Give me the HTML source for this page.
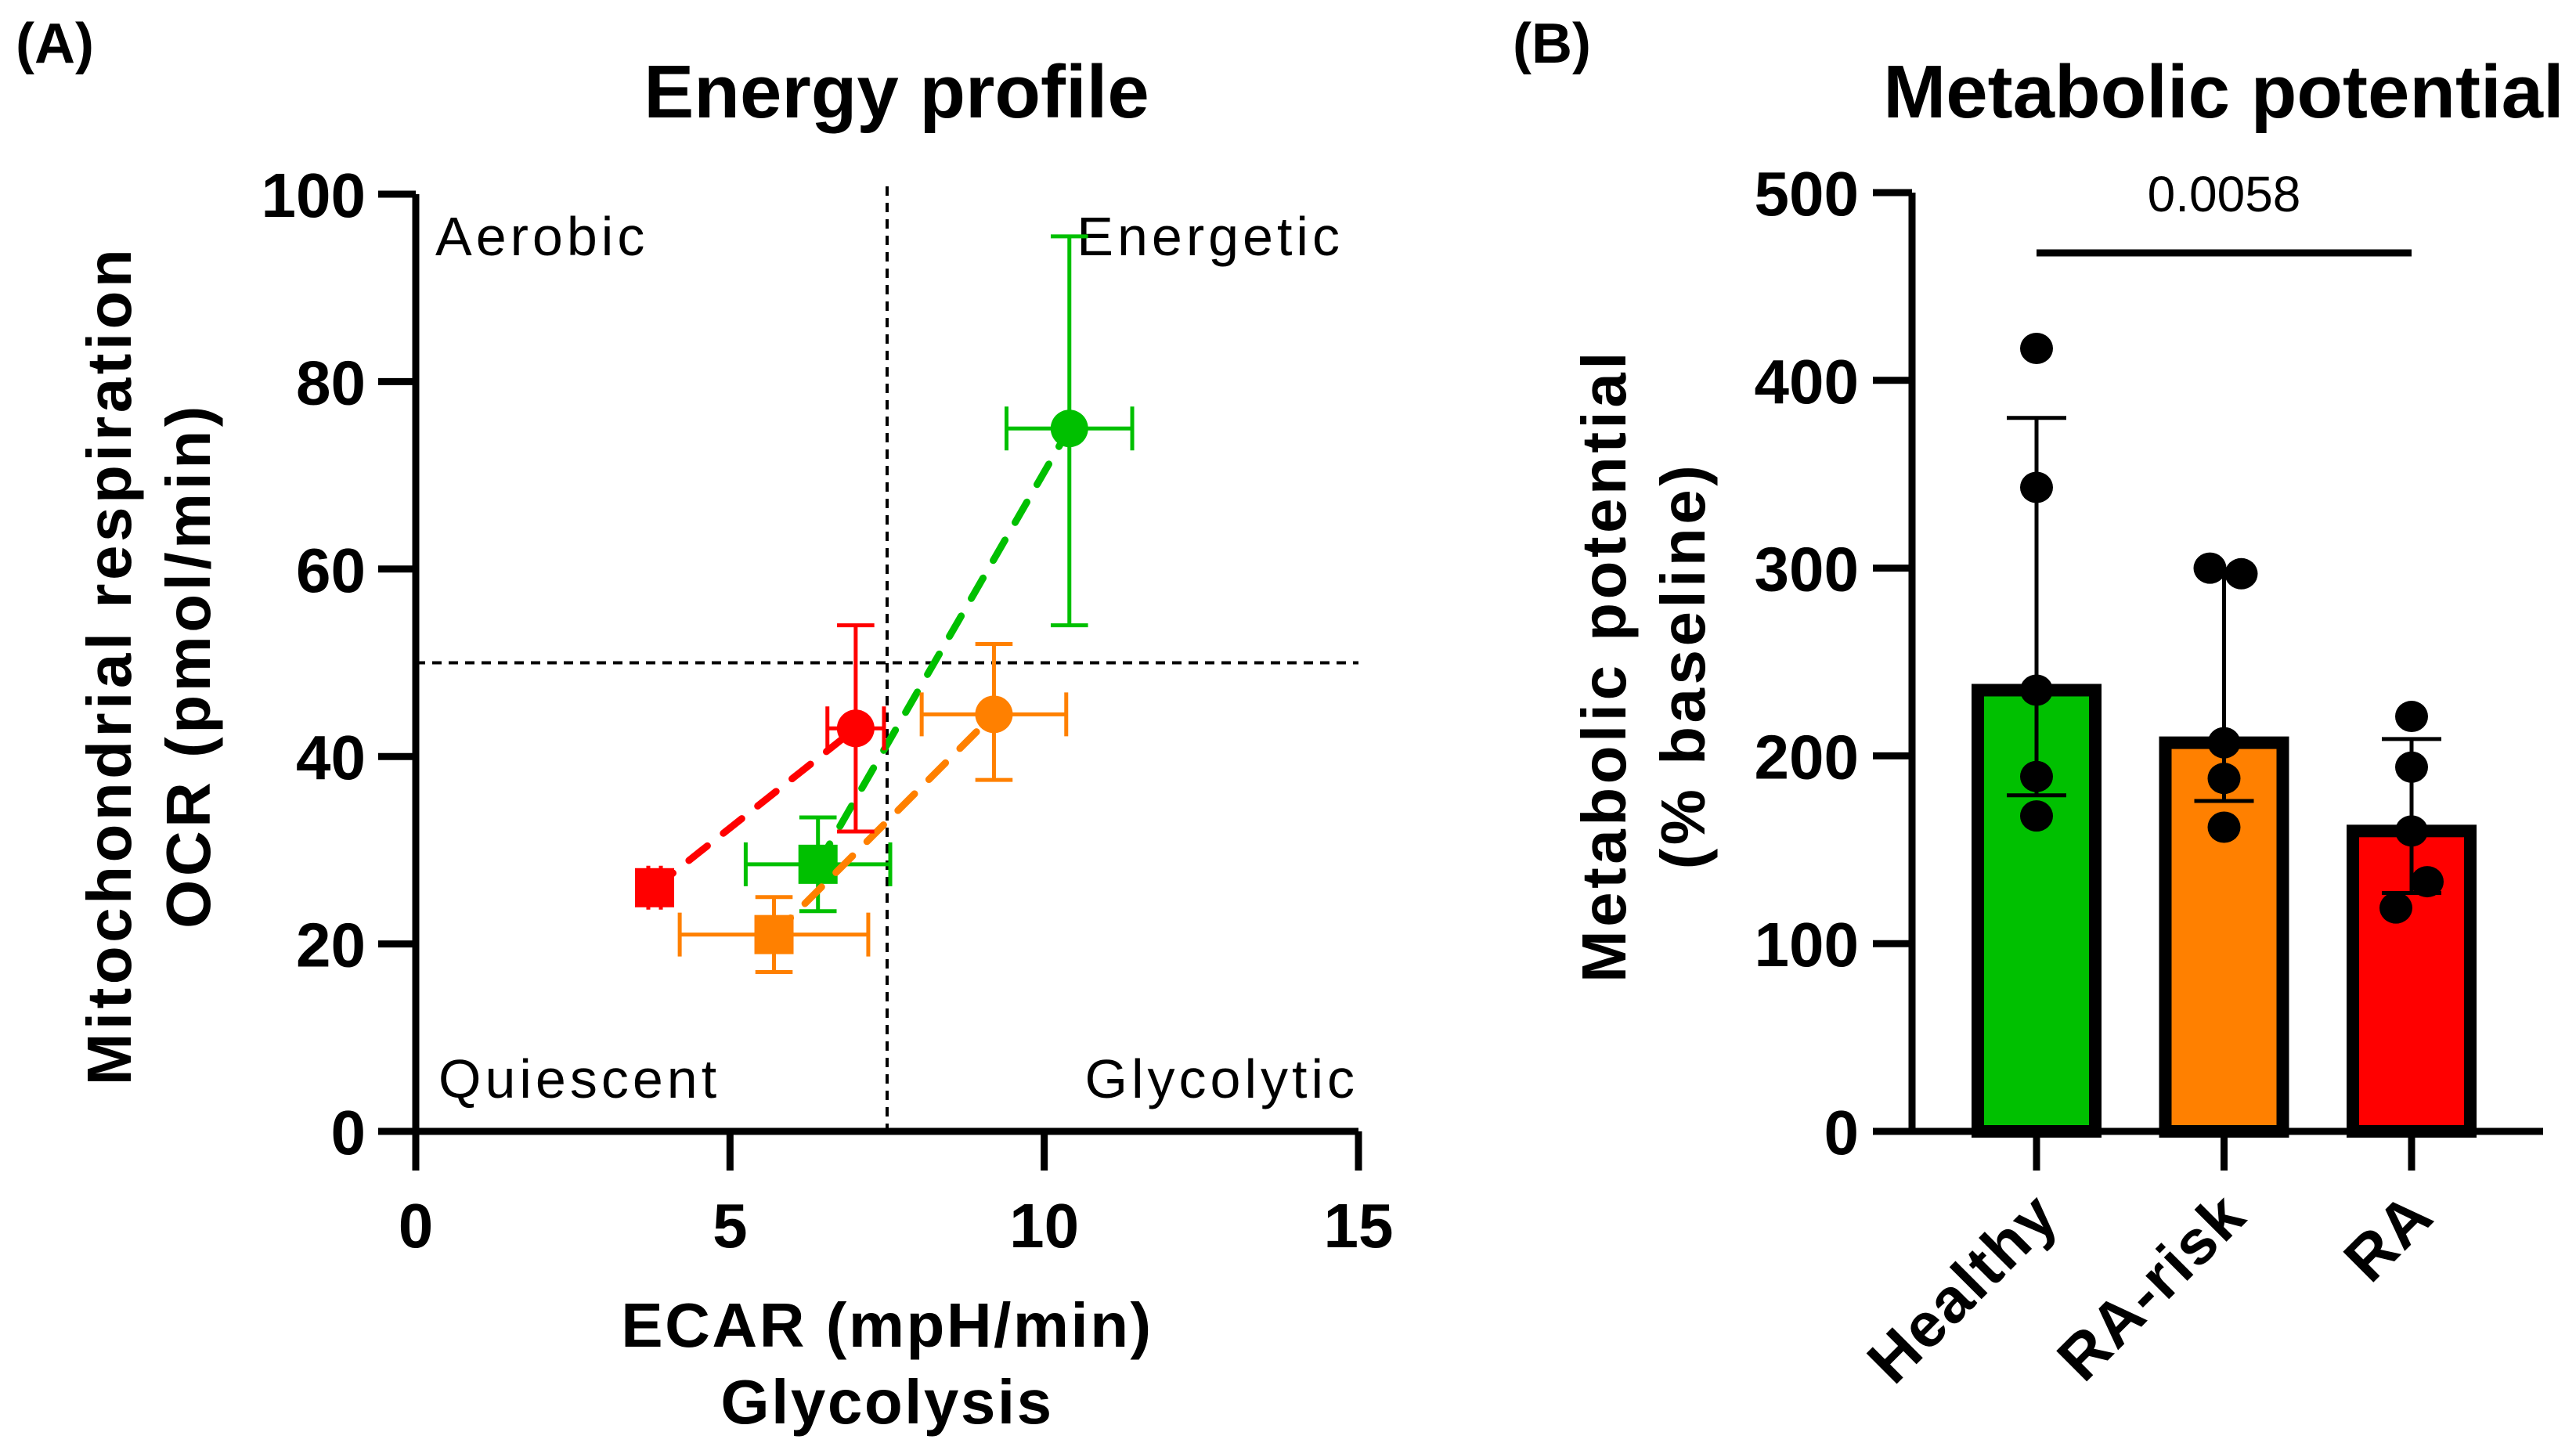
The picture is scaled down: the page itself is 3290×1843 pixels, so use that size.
<!DOCTYPE html>
<html><head><meta charset="utf-8"><style>
html,body{margin:0;padding:0;background:#fff;}
svg{display:block;font-family:"Liberation Sans",Arial,sans-serif;}
</style></head><body>
<svg id="chart" width="3290" height="1843" viewBox="0 0 3290 1843" xmlns="http://www.w3.org/2000/svg">
<g id="panelA"></g>
<g id="panelB"></g>
</svg>
<script>
// ---- Panel A data ----
const groupNames = ["Healthy","RA-risk","RA"];
const groupColors = ["#00C000","#FF8000","#FF0000"];
const stressedEcar = [10.4, 9.2, 7.0];
const stressedOcr = [75, 44.5, 43];
const stressedEcarErr = [1.0, 1.15, 0.45];
const stressedOcrErrLo = [21, 7, 11];
const stressedOcrErrHi = [20.5, 7.5, 11];
const baselineEcar = [6.4, 5.7, 3.8];
const baselineOcr = [28.5, 21, 26];
const baselineEcarErr = [1.15, 1.5, 0.1];
const baselineOcrErr = [5, 4, 1.5];
const xTicksA = [0,5,10,15];
const yTicksA = [0,20,40,60,80,100];
// ---- Panel B data ----
const barCategories = ["Healthy","RA-risk","RA"];
const barMeans = [235, 207, 160];
const barErrLow = [179, 176, 127];
const barErrHigh = [380, 299, 209];
const healthyPoints = [417, 343, 235, 189, 168];
const raRiskPoints = [300, 297, 207, 188, 162];
const raPoints = [221, 194, 160, 133, 119];
const pointOffsets = [[0,0,0,0,0],[-18,22,0,0,0],[0,0,0,20,-20]];
const yTicksB = [0,100,200,300,400,500];
const pValueLabel = "0.0058";

const NS="http://www.w3.org/2000/svg";
function mk(parent,tag,attrs,text){const e=document.createElementNS(NS,tag);for(const k in attrs)e.setAttribute(k,attrs[k]);if(text!==undefined)e.textContent=text;parent.appendChild(e);return e;}

// ---- Panel A ----
const A=document.getElementById('panelA');
const ax0=531,ax1=1735,ay0=1445,ay1=248;
const xA=v=>ax0+(v/15)*(ax1-ax0);
const yA=v=>ay0-(v/100)*(ay0-ay1);
let t;
t=mk(A,'text',{x:20,y:80,'font-size':72,'font-weight':'bold'},'(A)');


t=mk(A,'text',{x:1145,y:150,'font-size':96,'font-weight':'bold','text-anchor':'middle'},'Energy profile');


t=mk(A,'line',{x1:xA(7.5),x2:xA(7.5),y1:ay1-10,y2:ay0,stroke:'#000','stroke-width':4,'stroke-dasharray':'12 9'});


t=mk(A,'line',{x1:ax0,x2:ax1,y1:yA(50),y2:yA(50),stroke:'#000','stroke-width':4,'stroke-dasharray':'12 9'});


[['Aerobic',556,326,'start'],['Energetic',1716,326,'end'],['Quiescent',560,1402,'start'],['Glycolytic',1735,1402,'end']].forEach(q=>{
  const e=mk(A,'text',{x:q[1],y:q[2],'font-size':70,'letter-spacing':5,'text-anchor':q[3]},q[0]);
  
  
});
for(let i=0;i<3;i++){
  const c=groupColors[i];
  const g=mk(A,'g',{});
  
  
  const ln=mk(g,'line',{x1:xA(baselineEcar[i]),y1:yA(baselineOcr[i]),x2:xA(stressedEcar[i]),y2:yA(stressedOcr[i]),stroke:c,'stroke-width':9,'stroke-dasharray':'30 26','stroke-linecap':'round'});
  
  
  const cap=14;
  const sx=xA(stressedEcar[i]),sy=yA(stressedOcr[i]);
  const yl=yA(stressedOcr[i]-stressedOcrErrLo[i]),yh=yA(stressedOcr[i]+stressedOcrErrHi[i]);
  const xl=xA(stressedEcar[i]-stressedEcarErr[i]),xh=xA(stressedEcar[i]+stressedEcarErr[i]);
  const eb=mk(g,'path',{d:`M${sx},${yl}V${yh}M${sx-cap*1.7},${yh}H${sx+cap*1.7}M${sx-cap*1.7},${yl}H${sx+cap*1.7}M${xl},${sy}H${xh}M${xl},${sy-cap*2}V${sy+cap*2}M${xh},${sy-cap*2}V${sy+cap*2}`,stroke:c,'stroke-width':5,fill:'none'});
  
  
  const ci=mk(g,'circle',{cx:sx,cy:sy,r:24,fill:c});
  
  
  const bx=xA(baselineEcar[i]),by=yA(baselineOcr[i]);
  const byl=yA(baselineOcr[i]-baselineOcrErr[i]),byh=yA(baselineOcr[i]+baselineOcrErr[i]);
  const bxl=xA(baselineEcar[i]-baselineEcarErr[i]),bxh=xA(baselineEcar[i]+baselineEcarErr[i]);
  const eb2=mk(g,'path',{d:`M${bx},${byl}V${byh}M${bx-cap*1.7},${byh}H${bx+cap*1.7}M${bx-cap*1.7},${byl}H${bx+cap*1.7}M${bxl},${by}H${bxh}M${bxl},${by-cap*2}V${by+cap*2}M${bxh},${by-cap*2}V${by+cap*2}`,stroke:c,'stroke-width':5,fill:'none'});
  
  
  const sq=mk(g,'rect',{x:bx-25,y:by-25,width:50,height:50,fill:c});
  
  
}
t=mk(A,'path',{d:`M${ax0},${ay1}V${ay0}H${ax1}`,stroke:'#000','stroke-width':9,fill:'none'});


yTicksA.forEach(v=>{
  const tk=mk(A,'line',{x1:ax0-48,x2:ax0,y1:yA(v),y2:yA(v),stroke:'#000','stroke-width':9});
  
  
  const lb=mk(A,'text',{x:ax0-64,y:yA(v)+29,'font-size':80,'font-weight':'bold','text-anchor':'end'},String(v));
  
  
});
xTicksA.forEach(v=>{
  const tk=mk(A,'line',{x1:xA(v),x2:xA(v),y1:ay0,y2:ay0+50,stroke:'#000','stroke-width':9});
  
  
  const lb=mk(A,'text',{x:xA(v),y:1593,'font-size':80,'font-weight':'bold','text-anchor':'middle'},String(v));
  
  
});
t=mk(A,'text',{x:1133,y:1720,'font-size':80,'font-weight':'bold','letter-spacing':2.5,'text-anchor':'middle'},'ECAR (mpH/min)');


t=mk(A,'text',{x:1133,y:1818,'font-size':80,'font-weight':'bold','letter-spacing':2.5,'text-anchor':'middle'},'Glycolysis');


t=mk(A,'text',{x:0,y:0,'font-size':80,'font-weight':'bold','letter-spacing':4.5,'text-anchor':'middle',transform:'translate(167,850) rotate(-90)'},'Mitochondrial respiration');


t=mk(A,'text',{x:0,y:0,'font-size':80,'font-weight':'bold','letter-spacing':4.5,'text-anchor':'middle',transform:'translate(268,850) rotate(-90)'},'OCR (pmol/min)');



// ---- Panel B ----
const B=document.getElementById('panelB');
const bx0=2442,bx1=3248,by0=1445,by1=246;
const yB=v=>by0-(v/500)*(by0-by1);
const xB=i=>2601+i*239.5;
const pointSets=[healthyPoints,raRiskPoints,raPoints];
t=mk(B,'text',{x:1932,y:80,'font-size':72,'font-weight':'bold'},'(B)');


t=mk(B,'text',{x:2840,y:150,'font-size':96,'font-weight':'bold','text-anchor':'middle'},'Metabolic potential');


for(let i=0;i<3;i++){
  const cx=xB(i),w=150;
  const r=mk(B,'rect',{x:cx-w/2,y:yB(barMeans[i]),width:w,height:by0-yB(barMeans[i]),fill:groupColors[i],stroke:'#000','stroke-width':16});
  
  
  const e=mk(B,'path',{d:`M${cx},${yB(barErrLow[i])}V${yB(barErrHigh[i])}M${cx-38},${yB(barErrHigh[i])}H${cx+38}M${cx-38},${yB(barErrLow[i])}H${cx+38}`,stroke:'#000','stroke-width':5,fill:'none'});
  
  
  pointSets[i].forEach((v,j)=>{
    const p=mk(B,'ellipse',{cx:cx+pointOffsets[i][j],cy:yB(v),rx:21,ry:20,fill:'#000'});
    
    
  });
  const tk=mk(B,'line',{x1:cx,x2:cx,y1:by0,y2:by0+50,stroke:'#000','stroke-width':9});
  
  
  const lb=mk(B,'text',{x:0,y:0,'font-size':80,'font-weight':'bold','letter-spacing':2,'text-anchor':'end',transform:`translate(${cx+32},${by0+112}) rotate(-45)`},barCategories[i]);
  
  
}
t=mk(B,'path',{d:`M${bx0},${by1}V${by0}H${bx1}`,stroke:'#000','stroke-width':9,fill:'none'});


yTicksB.forEach(v=>{
  const tk=mk(B,'line',{x1:bx0-50,x2:bx0,y1:yB(v),y2:yB(v),stroke:'#000','stroke-width':9});
  
  
  const lb=mk(B,'text',{x:bx0-68,y:yB(v)+29,'font-size':80,'font-weight':'bold','text-anchor':'end'},String(v));
  
  
});
t=mk(B,'line',{x1:xB(0),x2:xB(2),y1:323,y2:323,stroke:'#000','stroke-width':9});


t=mk(B,'text',{x:(xB(0)+xB(2))/2,y:270,'font-size':64,'text-anchor':'middle'},pValueLabel);


t=mk(B,'text',{x:0,y:0,'font-size':80,'font-weight':'bold','letter-spacing':4.5,'text-anchor':'middle',transform:'translate(2076,850) rotate(-90)'},'Metabolic potential');


t=mk(B,'text',{x:0,y:0,'font-size':80,'font-weight':'bold','letter-spacing':4.5,'text-anchor':'middle',transform:'translate(2177,850) rotate(-90)'},'(% baseline)');


</script>
</body></html>
